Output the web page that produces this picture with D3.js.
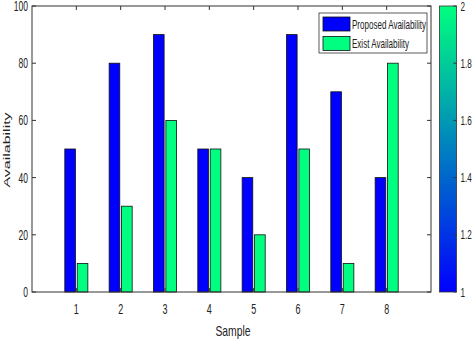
<!DOCTYPE html>
<html><head><meta charset="utf-8">
<script src="https://cdn.jsdelivr.net/npm/d3@7"></script>
<style>body{margin:0;background:#fff}svg{display:block}
text{font-family:"Liberation Sans",Arial,sans-serif;fill:#222}</style>
</head><body><svg id="c" width="474" height="342"></svg>
<script>
const categories = [1,2,3,4,5,6,7,8];
const proposed = [50,80,90,50,40,90,70,40];
const exist = [10,30,60,50,20,50,10,80];
const yTicks = [0,20,40,60,80,100];
const cbTicks = [1,1.2,1.4,1.6,1.8,2];
const seriesNames = ["Proposed Availability","Exist Availability"];

const svg = d3.select("#c");
const L=32,R=431,T=6,B=292;
const x = d3.scaleLinear().domain([0,9]).range([L,R]);
const y = d3.scaleLinear().domain([0,100]).range([B,T]);
const cols = ["#0000ff","#00ff80"];
const bw = 0.24, gap=0.02;

function txt(sel, px, py, s, size, anchor, sx){
  return sel.append("text")
    .attr("transform",`translate(${px},${py}) scale(${sx},1)`)
    .attr("text-anchor",anchor).attr("font-size",size).text(s);
}

const g = svg.append("g");
[proposed, exist].forEach((vals,si)=>{
  g.selectAll(null).data(categories).enter().append("rect")
   .attr("x", d=> si===0 ? x(d-gap-bw) : x(d+gap))
   .attr("width", x(bw)-x(0))
   .attr("y", (d,i)=>y(vals[i]))
   .attr("height",(d,i)=>y(0)-y(vals[i]))
   .attr("fill", cols[si]).attr("stroke","#111").attr("stroke-width",0.8);
});
svg.append("rect").attr("x",L).attr("y",T).attr("width",R-L).attr("height",B-T)
  .attr("fill","none").attr("stroke","#333").attr("stroke-width",1);
const xa = svg.append("g");
categories.forEach(c=>{
  xa.append("line").attr("x1",x(c)).attr("x2",x(c)).attr("y1",B).attr("y2",B-4).attr("stroke","#333");
  xa.append("line").attr("x1",x(c)).attr("x2",x(c)).attr("y1",T).attr("y2",T+4).attr("stroke","#333");
  txt(xa, x(c), 314, c, 14.5, "middle", 0.62);
});
yTicks.forEach(v=>{
  xa.append("line").attr("x1",L).attr("x2",L+4).attr("y1",y(v)).attr("y2",y(v)).attr("stroke","#333");
  xa.append("line").attr("x1",R).attr("x2",R-4).attr("y1",y(v)).attr("y2",y(v)).attr("stroke","#333");
  txt(xa, 28, y(v)+5, v, 14, "end", 0.61);
});
txt(svg, 233, 336, "Sample", 14, "middle", 0.74);
svg.append("text").attr("transform","translate(10,150) rotate(-90) scale(1,0.62)")
  .attr("text-anchor","middle").attr("font-size",16).text("Availability");
const lg = svg.append("g");
lg.append("rect").attr("x",319).attr("y",13).attr("width",108).attr("height",40)
  .attr("fill","#fff").attr("stroke","#333").attr("stroke-width",0.8);
seriesNames.forEach((n,i)=>{
  lg.append("rect").attr("x",323).attr("y",17+i*19.5).attr("width",27).attr("height",14)
    .attr("fill",cols[i]).attr("stroke","#111").attr("stroke-width",0.8);
  txt(lg, 352, 28.5+i*19, n, 12, "start", 0.67);
});
const defs = svg.append("defs");
const grad = defs.append("linearGradient").attr("id","wg").attr("x1",0).attr("y1",1).attr("x2",0).attr("y2",0);
const winter = t=>d3.rgb(0,255*t,255*(1-0.5*t));
d3.range(0,1.0001,0.1).forEach(t=>grad.append("stop").attr("offset",t).attr("stop-color",winter(t)));
const cy = d3.scaleLinear().domain([1,2]).range([B,T]);
svg.append("rect").attr("x",439.5).attr("y",T).attr("width",17).attr("height",B-T)
  .attr("fill","url(#wg)").attr("stroke","#333").attr("stroke-width",0.8);
cbTicks.forEach(v=>{
  svg.append("line").attr("x1",456.5).attr("x2",453.5).attr("y1",cy(v)).attr("y2",cy(v)).attr("stroke","#333");
  txt(svg, 460.5, cy(v)+4.5, v, 12.5, "start", 0.65);
});
</script></body></html>
